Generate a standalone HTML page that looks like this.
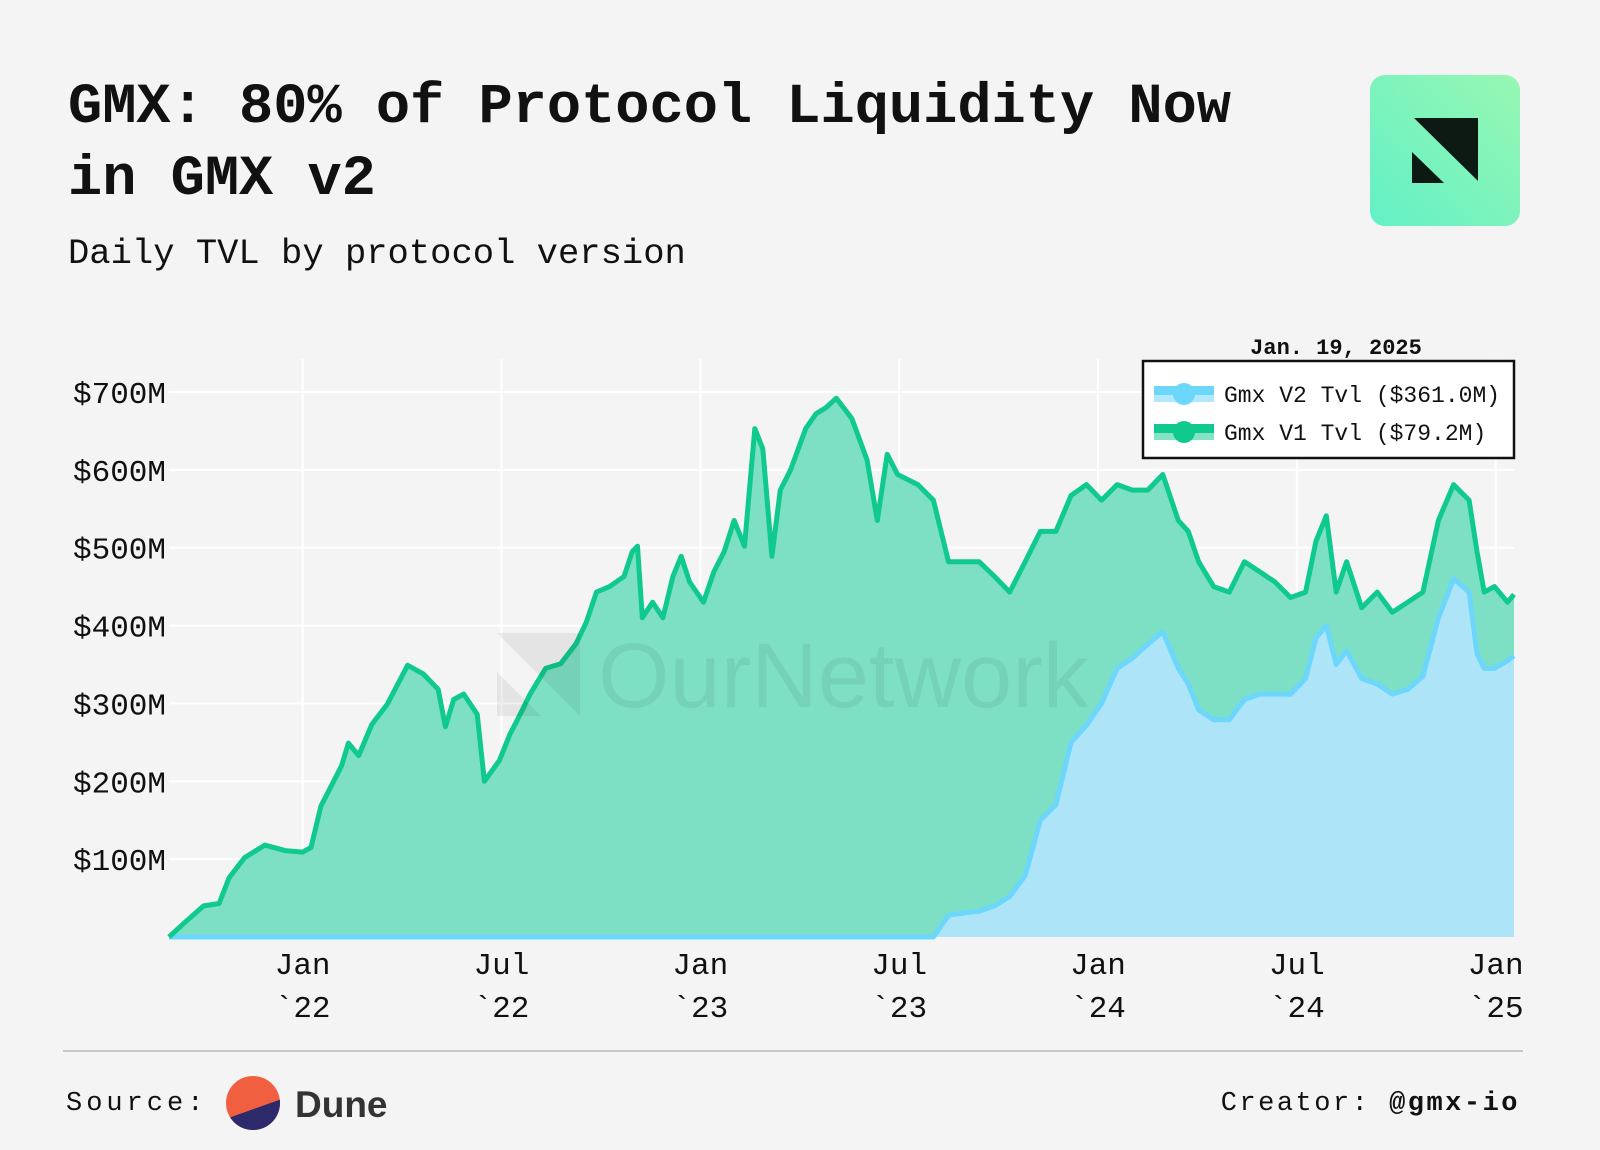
<!DOCTYPE html>
<html><head><meta charset="utf-8"><style>
html,body{margin:0;padding:0;background:#f4f4f4;}
body{width:1600px;height:1150px;overflow:hidden;position:relative;font-family:"Liberation Mono",monospace;}
svg{position:absolute;left:0;top:0;}
</style></head><body>
<svg id="chart" width="1600" height="1150" viewBox="0 0 1600 1150" xmlns="http://www.w3.org/2000/svg">
  <text x="68" y="122" font-family="Liberation Mono, monospace" font-weight="bold" font-size="57" fill="#111">GMX: 80% of Protocol Liquidity Now</text>
  <text x="68" y="194" font-family="Liberation Mono, monospace" font-weight="bold" font-size="57" fill="#111">in GMX v2</text>
  <text x="68" y="263" font-family="Liberation Mono, monospace" font-size="35.5" fill="#111">Daily TVL by protocol version</text>
  <g>
    <defs><linearGradient id="lg" x1="1" y1="0" x2="0" y2="1"><stop offset="0" stop-color="#98f7b2"/><stop offset="1" stop-color="#62f0c6"/></linearGradient></defs>
    <rect x="1370" y="75" width="150" height="151" rx="15" fill="url(#lg)"/>
    <polygon points="1414,118 1478,118 1478,181" fill="#0d1a14"/>
    <polygon points="1412,152 1412,183 1444,183" fill="#0d1a14"/>
  </g>
  <g id="grid"></g>
  <g id="areas"></g>
  <g opacity="0.06">
    <polygon points="497,633 580,633 580,716" fill="#000"/>
    <polygon points="497,672 497,716 541,716" fill="#000"/>
    <text x="598" y="707" font-family="Liberation Sans, sans-serif" font-size="92" fill="#000">OurNetwork</text>
  </g>
  <g id="axes"></g>
  <g>
    <text x="1336" y="354" text-anchor="middle" font-family="Liberation Mono, monospace" font-weight="bold" font-size="22" fill="#111">Jan. 19, 2025</text>
    <rect x="1143" y="361" width="371" height="97" fill="#fff" stroke="#111" stroke-width="2.5"/>
    <g>
      <rect x="1154" y="386" width="60" height="9" fill="#6dd6fb"/><rect x="1154" y="395" width="60" height="7" fill="#b2e8fb"/>
      <circle cx="1184" cy="394" r="11" fill="#6dd6fb"/>
      <text x="1224" y="402" font-family="Liberation Mono, monospace" font-size="23" fill="#111">Gmx V2 Tvl ($361.0M)</text>
    </g>
    <g>
      <rect x="1154" y="424" width="60" height="9" fill="#10c98f"/><rect x="1154" y="433" width="60" height="7" fill="#82e3c8"/>
      <circle cx="1184" cy="432" r="11" fill="#10c98f"/>
      <text x="1224" y="440" font-family="Liberation Mono, monospace" font-size="23" fill="#111">Gmx V1 Tvl ($79.2M)</text>
    </g>
  </g>
  <line x1="63" y1="1051" x2="1523" y2="1051" stroke="#ccc8c8" stroke-width="2"/>
  <text x="66" y="1110" font-family="Liberation Mono, monospace" font-size="27" letter-spacing="4" fill="#111">Source:</text>
  <g>
    <clipPath id="dc"><circle cx="253" cy="1103" r="27"/></clipPath>
    <circle cx="253" cy="1103" r="27" fill="#f06040"/>
    <polygon clip-path="url(#dc)" points="220,1121 290,1096 290,1140 220,1140" fill="#2c2a6b"/>
    <text x="295" y="1117" font-family="Liberation Sans, sans-serif" font-weight="bold" font-size="37" fill="#333">Dune</text>
  </g>
  <text x="1520" y="1110" text-anchor="end" font-family="Liberation Mono, monospace" font-size="27" letter-spacing="2.5" fill="#111">Creator: <tspan font-weight="bold">@gmx-io</tspan></text>
</svg>
<script>
const dates=[2021.664,2021.700,2021.751,2021.790,2021.815,2021.854,2021.905,2021.956,2022.000,2022.021,2022.046,2022.098,2022.115,2022.141,2022.174,2022.213,2022.264,2022.303,2022.341,2022.359,2022.380,2022.405,2022.439,2022.457,2022.495,2022.521,2022.547,2022.572,2022.611,2022.649,2022.688,2022.713,2022.739,2022.772,2022.808,2022.829,2022.842,2022.854,2022.880,2022.906,2022.931,2022.952,2022.973,2023.008,2023.034,2023.060,2023.085,2023.111,2023.137,2023.157,2023.180,2023.201,2023.227,2023.265,2023.291,2023.316,2023.342,2023.381,2023.419,2023.445,2023.470,2023.496,2023.547,2023.586,2023.624,2023.663,2023.701,2023.740,2023.778,2023.817,2023.855,2023.894,2023.932,2023.971,2024.009,2024.048,2024.086,2024.125,2024.163,2024.202,2024.227,2024.253,2024.291,2024.330,2024.368,2024.407,2024.445,2024.484,2024.522,2024.548,2024.574,2024.599,2024.625,2024.663,2024.702,2024.740,2024.779,2024.817,2024.856,2024.894,2024.933,2024.953,2024.971,2024.997,2025.030,2025.046];
const v1Tvl=[0,17,40,43,76,102,118,111,109,115,168,220,249,233,273,299,349,338,318,270,305,312,286,200,227,260,286,312,345,351,377,404,443,450,463,495,502,410,430,410,463,489,456,430,469,495,535,502,653,627,489,574,600,653,672,680,692,666,613,535,620,594,581,561,454,451,449,423,391,403,371,351,317,309,261,236,216,198,202,190,196,190,171,164,177,157,144,124,111,124,141,93,114,91,118,105,112,108,125,121,118,131,98,105,75,79];
const v2Tvl=[0,0,0,0,0,0,0,0,0,0,0,0,0,0,0,0,0,0,0,0,0,0,0,0,0,0,0,0,0,0,0,0,0,0,0,0,0,0,0,0,0,0,0,0,0,0,0,0,0,0,0,0,0,0,0,0,0,0,0,0,0,0,0,0,28,31,33,40,52,79,150,170,250,272,300,345,358,376,392,345,325,292,279,279,305,312,312,312,332,384,400,350,368,332,325,312,318,335,410,460,443,364,345,345,355,361];
const yTicks=[100,200,300,400,500,600,700];
const yTickLabels=["$100M","$200M","$300M","$400M","$500M","$600M","$700M"];
const xTicks=[2022.0,2022.5,2023.0,2023.5,2024.0,2024.5,2025.0];
const xTickMonths=["Jan","Jul","Jan","Jul","Jan","Jul","Jan"];
const xTickYears=["`22","`22","`23","`23","`24","`24","`25"];

const NS="http://www.w3.org/2000/svg";
const PL=169,PR=1514,PT=359,PB=937;
const X0=2021.664,X1=2025.046;
const x=t=>PL+(t-X0)/(X1-X0)*(PR-PL);
const y=v=>PB-v*(PB-392)/700;
function mk(tag,attrs,parent){const e=document.createElementNS(NS,tag);for(const k in attrs)e.setAttribute(k,attrs[k]);parent.appendChild(e);return e;}
const grid=document.getElementById('grid'),areas=document.getElementById('areas'),axes=document.getElementById('axes');
yTicks.forEach((v,i)=>{
  const l=mk('line',{x1:PL,x2:PR,y1:y(v),y2:y(v),stroke:'#fff','stroke-width':2},grid);
  
  
  const t=mk('text',{x:166,y:y(v)+11,'text-anchor':'end','font-family':'Liberation Mono, monospace','font-size':31,fill:'#111'},axes);
  t.textContent=yTickLabels[i];
  
  
});
xTicks.forEach((d,i)=>{
  const l=mk('line',{x1:x(d),x2:x(d),y1:PT,y2:PB,stroke:'#fff','stroke-width':2},grid);
  
  
  const t=mk('text',{x:x(d),y:974,'text-anchor':'middle','font-family':'Liberation Mono, monospace','font-size':31,fill:'#111'},axes);
  t.textContent=xTickMonths[i];
  
  
  const t2=mk('text',{x:x(d),y:1017,'text-anchor':'middle','font-family':'Liberation Mono, monospace','font-size':31,fill:'#111'},axes);
  t2.textContent=xTickYears[i];
  
  
});
const total=dates.map((d,i)=>v1Tvl[i]+v2Tvl[i]);
function linePts(vals){return dates.map((d,i)=>x(d).toFixed(1)+','+y(vals[i]).toFixed(1)).join(' ');}
function areaPts(vals){return x(dates[0])+','+PB+' '+linePts(vals)+' '+x(dates[dates.length-1])+','+PB;}
const a1=mk('polygon',{points:areaPts(total),fill:'#7de0c4'},areas);


const a2=mk('polygon',{points:areaPts(v2Tvl),fill:'#aee4f7'},areas);


const l2=mk('polyline',{points:linePts(v2Tvl),fill:'none',stroke:'#6dd6fb','stroke-width':5,'stroke-linejoin':'round'},areas);


const l1=mk('polyline',{points:linePts(total),fill:'none',stroke:'#10c98f','stroke-width':5,'stroke-linejoin':'round'},areas);


</script>
</body></html>
